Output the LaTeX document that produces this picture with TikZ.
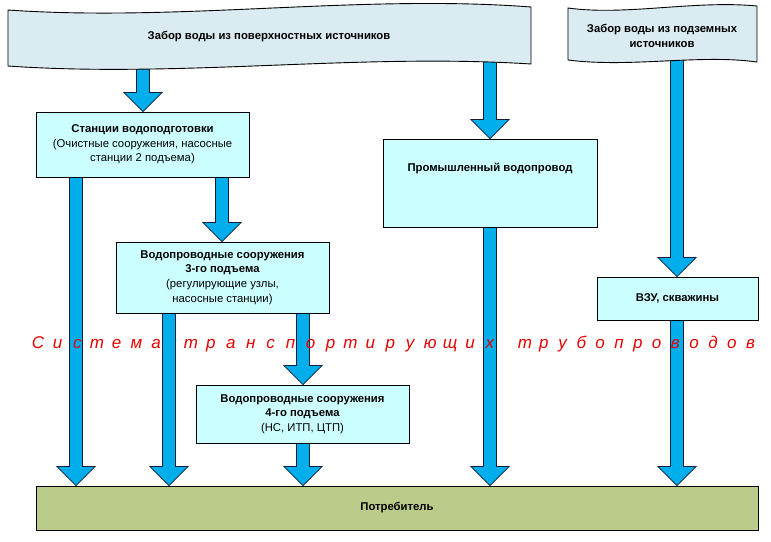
\documentclass[tikz,border=0pt]{standalone}
\usepackage{fontspec}
\setmainfont{Liberation Sans}
\usetikzlibrary{calc}
\pgfdeclarelayer{bg}
\pgfsetlayers{bg,main}
\definecolor{boxfill}{RGB}{204,255,255}
\definecolor{banfill}{RGB}{218,236,242}
\definecolor{consfill}{RGB}{187,204,138}
\definecolor{arrfill}{RGB}{0,174,236}
\definecolor{arrline}{RGB}{20,30,60}
\definecolor{redtext}{RGB}{230,0,0}
\tikzset{
  box/.style={draw=black, line width=0.9pt, fill=boxfill, inner sep=0pt, align=center,
    font=\fontsize{11.3}{14.7}\selectfont},
  banner/.style={draw=black, line width=0.9pt, fill=banfill},
  bantext/.style={align=center, inner sep=0pt, font=\fontsize{11.3}{15}\selectfont\bfseries},
  plaintext/.style={align=center, inner sep=0pt, font=\fontsize{11.3}{15}\selectfont\bfseries},
  barr/.style={draw=arrline, line width=0.7pt, fill=arrfill, line join=miter},
  redtxt/.style={text=redtext, font=\fontsize{17}{17}\selectfont\itshape, anchor=base, inner sep=0pt},
}
\newcommand\blockarr[3]{%
  \draw[barr] let \p1=(#2), \p2=(#3) in
    (#1pt-6.5pt,\y1) -- (#1pt-6.5pt,\y2+19pt) -- (#1pt-19pt,\y2+19pt) -- (#1pt,\y2)
    -- (#1pt+19pt,\y2+19pt) -- (#1pt+6.5pt,\y2+19pt) -- (#1pt+6.5pt,\y1) -- cycle;}
\begin{document}
\begin{tikzpicture}[x=1pt,y=-1pt]
\useasboundingbox (0,0) rectangle (771,541);

% banners
\draw[banner] (8,10) .. controls (180,22) and (360,-6) .. (531,7) -- (531,64)
  .. controls (360,53) and (180,78) .. (8,66) -- cycle;
\node[bantext] (b1) at (269,37) {Забор воды из поверхностных источников};
\draw[banner] (568,8) .. controls (625,16) and (695,0) .. (757,6) -- (757,62)
  .. controls (700,54) and (630,68) .. (568,60) -- cycle;
\node[bantext] (b2) at (662,36) {Забор воды из подземных\\источников};

% boxes
\node[box, minimum width=213pt, minimum height=65pt] (st) at (142.5,144.5)
  {\textbf{Станции водоподготовки}\\(Очистные сооружения, насосные\\станции 2 подъема)};
\node[box, minimum width=213pt, minimum height=71pt] (lift3) at (222.5,277.5)
  {\textbf{Водопроводные сооружения}\\\textbf{3-го подъема}\\(регулирующие узлы,\\насосные станции)};
\node[box, minimum width=213pt, minimum height=58pt] (lift4) at (302.5,414)
  {\textbf{Водопроводные сооружения}\\\textbf{4-го подъема}\\(НС, ИТП, ЦТП)};
\node[box, minimum width=214pt, minimum height=88pt] (prom) at (490,183) {};
\node[plaintext] (promt) at (490,168) {Промышленный водопровод};
\node[box, minimum width=161pt, minimum height=43pt] (vzu) at (677.5,298.5)
  {\textbf{ВЗУ, скважины}};
\node[box, fill=consfill, minimum width=722pt, minimum height=44pt] (cons) at (397,508)
  {\textbf{Потребитель}};

% arrows
\begin{pgfonlayer}{bg}
\fill[white] (0,0) rectangle (771,541);
\blockarr{143}{b1}{st.north}
\blockarr{490}{b1}{prom.north}
\blockarr{677}{b2}{vzu.north}
\blockarr{76}{st.south}{cons.north}
\blockarr{222}{st.south}{lift3.north}
\blockarr{169}{lift3.south}{cons.north}
\blockarr{303}{lift3.south}{lift4.north}
\blockarr{303}{lift4.south}{cons.north}
\blockarr{490}{prom.south}{cons.north}
\blockarr{677}{vzu.south}{cons.north}
\end{pgfonlayer}

% red caption
\foreach \ltr [count=\i from 0] in {С,и,с,т,е,м,а}
  \node[redtxt] (ra\i) at (38+19.67*\i,348) {\ltr};
\foreach \ltr [count=\i from 0] in {т,р,а,н,с,п,о,р,т,и,р,у,ю,щ,и,х}
  \node[redtxt] (rb\i) at (191+19.93*\i,348) {\ltr};
\foreach \ltr [count=\i from 0] in {т,р,у,б,о,п,р,о,в,о,д,о,в}
  \node[redtxt] (rc\i) at (525+18.8*\i,348) {\ltr};
\end{tikzpicture}
\end{document}
